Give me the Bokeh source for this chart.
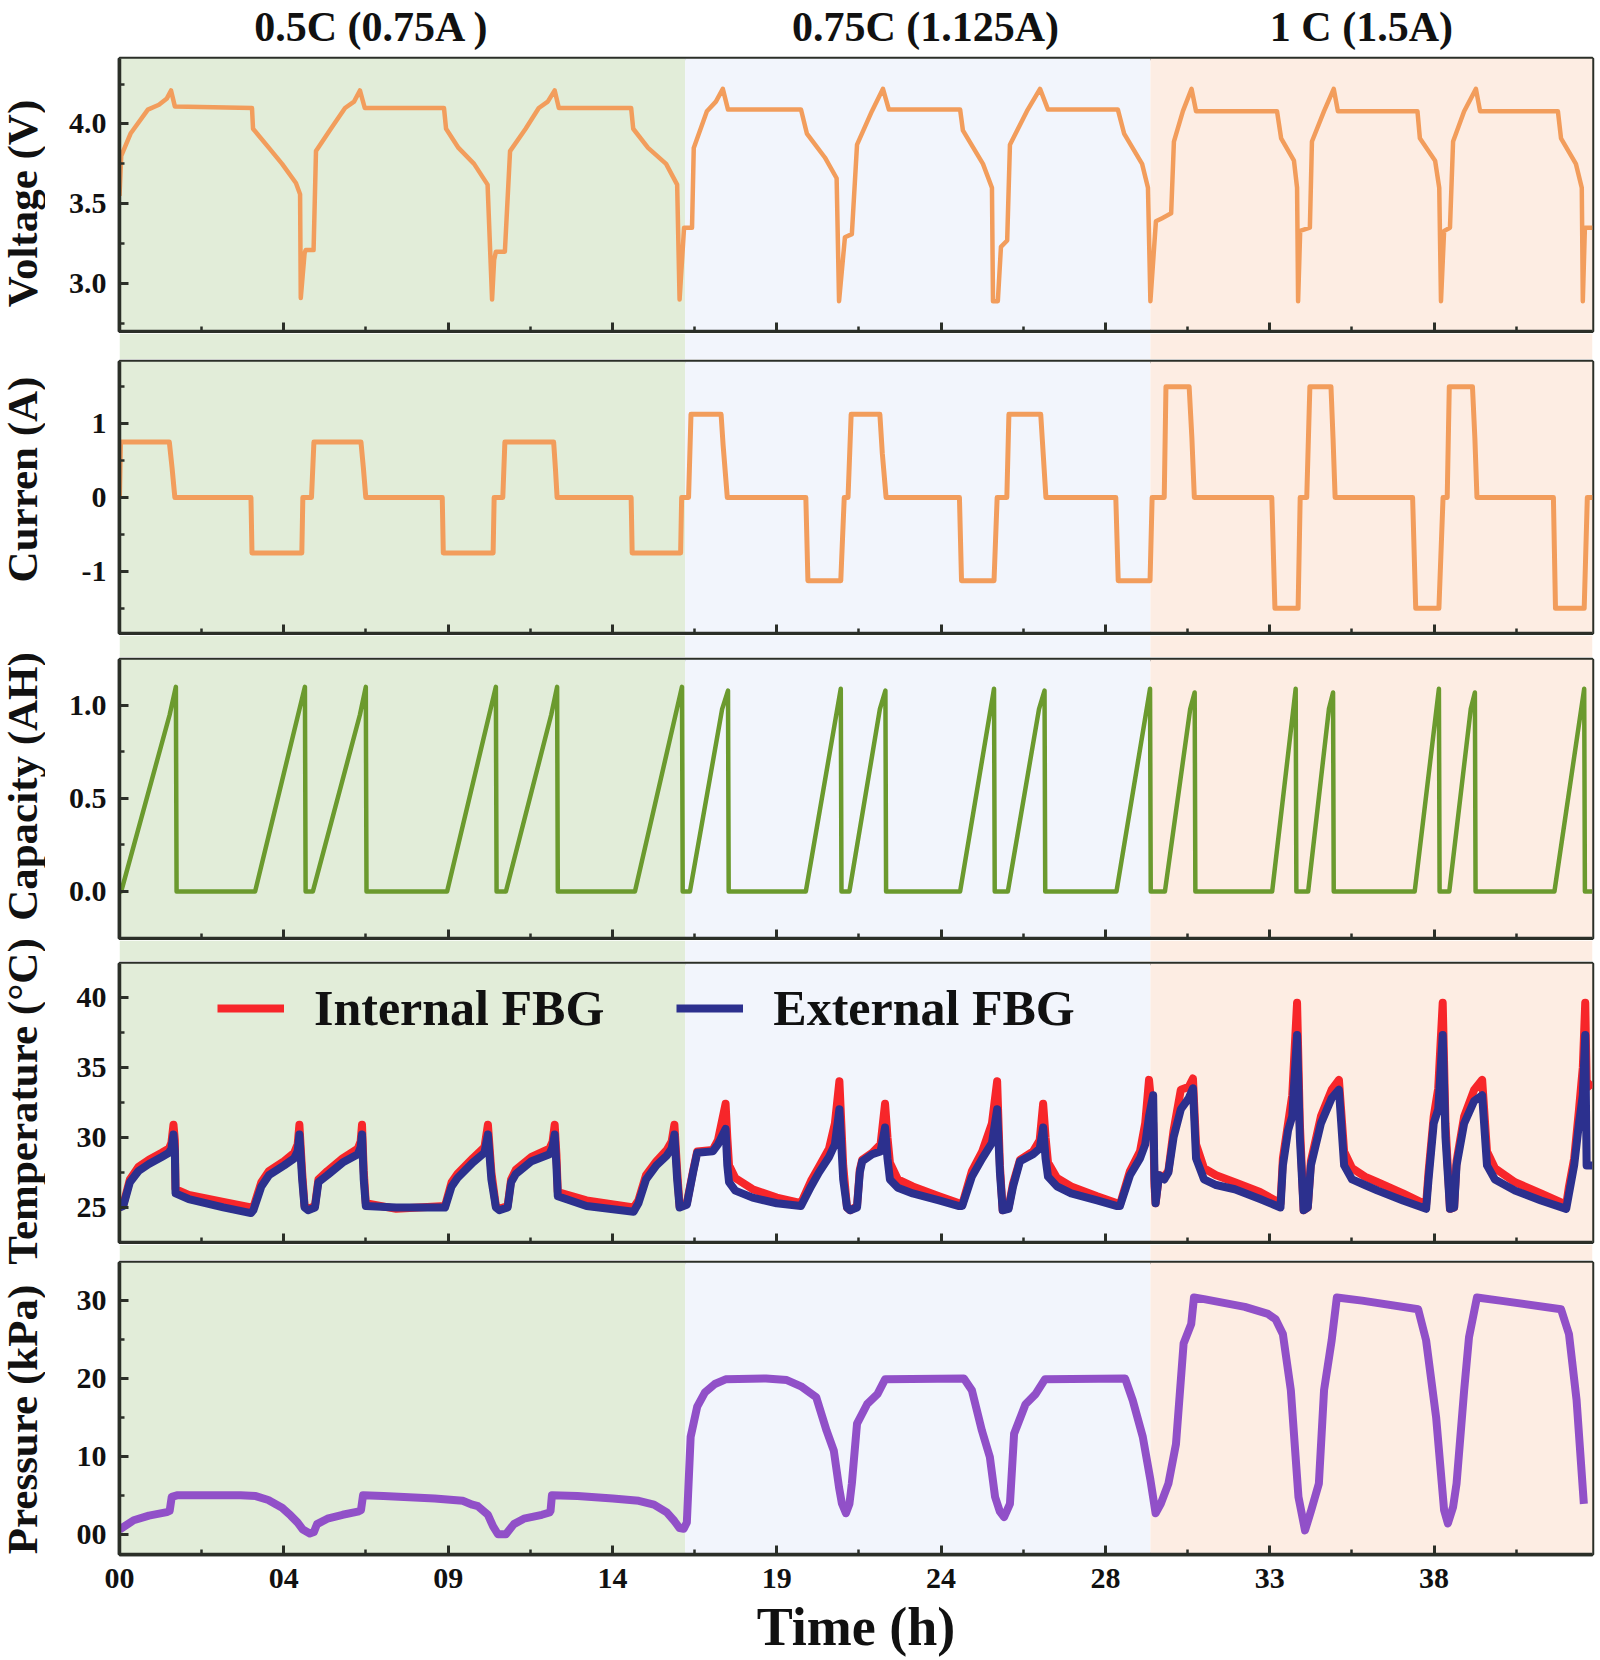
import math
from bokeh.plotting import figure
from bokeh.layouts import column, row
from bokeh.models import Range1d, BoxAnnotation, FixedTicker, Legend, LegendItem, CustomLabelingPolicy
from bokeh.core.properties import value
from bokeh.embed import file_html
from bokeh.resources import INLINE

# ---------------- data ----------------
titles = ["0.5C (0.75A )", "0.75C (1.125A)", "1 C (1.5A)"]
title_x = [7.3, 23.3, 35.9]

band_left = [0.0, 16.35, 29.80]
band_right = [16.35, 29.80, 42.58]
band_colors = ["#E2EDD9", "#F2F5FC", "#FDEDE3"]

x_ticks = [0.0, 4.75, 9.5, 14.25, 19.0, 23.75, 28.5, 33.25, 38.0]
x_minor = [2.375, 7.125, 11.875, 16.625, 21.375, 26.125, 30.875, 35.625, 40.375]
x_tick_labels = ["00", "04", "09", "14", "19", "24", "28", "33", "38"]

y_titles = ["Voltage (V)", "Curren (A)", "Capacity (AH)", "Temperature (\u00b0C)", "Pressure (kPa)"]

v_ticks = [3.0, 3.5, 4.0]; v_minor = [2.75, 3.25, 3.75, 4.25]; v_labels = ["3.0", "3.5", "4.0"]
i_ticks = [-1, 0, 1]; i_minor = [-1.5, -0.5, 0.5, 1.5]; i_labels = ["-1", "0", "1"]
c_ticks = [0.0, 0.5, 1.0]; c_minor = [0.25, 0.75]; c_labels = ["0.0", "0.5", "1.0"]
t_ticks = [25, 30, 35, 40]; t_minor = [27.5, 32.5, 37.5]; t_labels = ["25", "30", "35", "40"]
p_ticks = [0, 10, 20, 30]; p_minor = [5, 15, 25]; p_labels = ["00", "10", "20", "30"]

voltage = [
    (0.00, 3.55), (0.05, 3.80), (0.32, 3.94), (0.82, 4.09), (1.14, 4.12), (1.37, 4.16), (1.49, 4.21),
    (1.60, 4.11), (3.83, 4.10), (3.86, 3.97), (4.32, 3.85), (4.70, 3.75), (5.10, 3.63), (5.22, 3.56),
    (5.24, 2.91), (5.35, 3.19), (5.38, 3.21), (5.61, 3.21), (5.68, 3.83), (6.11, 3.97), (6.52, 4.10),
    (6.78, 4.14), (6.95, 4.21), (7.09, 4.10), (9.38, 4.10), (9.44, 3.97), (9.80, 3.85), (10.25, 3.75),
    (10.64, 3.62), (10.77, 2.90), (10.83, 3.15), (10.88, 3.20), (11.14, 3.20), (11.29, 3.83),
    (11.74, 3.97), (12.12, 4.10), (12.38, 4.14), (12.58, 4.21), (12.70, 4.10), (14.79, 4.10),
    (14.85, 3.97), (15.28, 3.85), (15.80, 3.75), (16.12, 3.62), (16.19, 2.90), (16.32, 3.35),
    (16.55, 3.35), (16.60, 3.85), (16.98, 4.08), (17.24, 4.14), (17.44, 4.22), (17.59, 4.09),
    (19.70, 4.09), (19.87, 3.94), (20.39, 3.79), (20.73, 3.66), (20.80, 2.89), (20.97, 3.29),
    (21.17, 3.31), (21.32, 3.87), (21.75, 4.08), (22.07, 4.22), (22.24, 4.09), (24.30, 4.09),
    (24.38, 3.96), (24.96, 3.75), (25.22, 3.60), (25.25, 2.89), (25.39, 2.89), (25.48, 3.23),
    (25.66, 3.27), (25.74, 3.87), (26.23, 4.08), (26.61, 4.22), (26.84, 4.09), (28.86, 4.09),
    (29.04, 3.94), (29.56, 3.75), (29.73, 3.60), (29.80, 2.89), (29.96, 3.39), (30.14, 3.41),
    (30.40, 3.44), (30.48, 3.89), (30.74, 4.08), (30.99, 4.22), (31.12, 4.08), (33.46, 4.08),
    (33.58, 3.91), (33.95, 3.77), (34.04, 3.60), (34.07, 2.89), (34.13, 3.33), (34.41, 3.35),
    (34.47, 3.89), (34.82, 4.08), (35.10, 4.22), (35.22, 4.08), (37.52, 4.08), (37.59, 3.91),
    (38.03, 3.77), (38.15, 3.60), (38.20, 2.89), (38.29, 3.33), (38.46, 3.35), (38.55, 3.89),
    (38.87, 4.08), (39.21, 4.22), (39.33, 4.08), (41.58, 4.08), (41.67, 3.91), (42.10, 3.75),
    (42.27, 3.60), (42.30, 2.89), (42.36, 3.35), (42.58, 3.35),
]

current = [
    (0.00, 0.0), (0.03, 0.75), (1.44, 0.75), (1.52, 0.40), (1.60, 0.0), (3.80, 0.0), (3.83, -0.75),
    (5.27, -0.75), (5.30, 0.0), (5.55, 0.0), (5.62, 0.75), (6.98, 0.75), (7.05, 0.40), (7.12, 0.0),
    (9.33, 0.0), (9.36, -0.75), (10.80, -0.75), (10.83, 0.0), (11.08, 0.0), (11.14, 0.75),
    (12.55, 0.75), (12.60, 0.40), (12.65, 0.0), (14.79, 0.0), (14.82, -0.75), (16.22, -0.75),
    (16.25, 0.0), (16.45, 0.0), (16.52, 1.125), (17.39, 1.125), (17.45, 0.70), (17.57, 0.0),
    (19.84, 0.0), (19.90, -1.125), (20.85, -1.125), (20.95, 0.0), (21.06, 0.0), (21.15, 1.125),
    (21.98, 1.125), (22.05, 0.60), (22.16, 0.0), (24.28, 0.0), (24.34, -1.125), (25.28, -1.125),
    (25.37, 0.0), (25.65, 0.0), (25.71, 1.125), (26.63, 1.125), (26.70, 0.60), (26.78, 0.0),
    (28.80, 0.0), (28.87, -1.125), (29.79, -1.125), (29.85, 0.0), (30.20, 0.0), (30.25, 1.5),
    (30.92, 1.5), (31.00, 0.80), (31.07, 0.0), (33.31, 0.0), (33.40, -1.5), (34.07, -1.5),
    (34.13, 0.0), (34.32, 0.0), (34.41, 1.5), (35.02, 1.5), (35.08, 0.80), (35.14, 0.0),
    (37.38, 0.0), (37.47, -1.5), (38.14, -1.5), (38.26, 0.0), (38.38, 0.0), (38.44, 1.5),
    (39.11, 1.5), (39.18, 0.80), (39.24, 0.0), (41.45, 0.0), (41.51, -1.5), (42.34, -1.5),
    (42.43, 0.0), (42.58, 0.0),
]

capacity = [
    (0.00, 0.0), (0.05, 0.0), (1.45, 0.95), (1.63, 1.10), (1.65, 0.0), (3.92, 0.0), (5.36, 1.10),
    (5.38, 0.0), (5.59, 0.0), (6.95, 0.95), (7.12, 1.10), (7.14, 0.0), (9.47, 0.0), (10.88, 1.10),
    (10.90, 0.0), (11.17, 0.0), (12.48, 0.95), (12.65, 1.10), (12.67, 0.0), (14.90, 0.0),
    (16.26, 1.10), (16.28, 0.0), (16.49, 0.0), (17.42, 0.98), (17.59, 1.08), (17.61, 0.0),
    (19.84, 0.0), (20.85, 1.09), (20.87, 0.0), (21.10, 0.0), (21.98, 0.98), (22.14, 1.08),
    (22.16, 0.0), (24.30, 0.0), (25.28, 1.09), (25.30, 0.0), (25.68, 0.0), (26.58, 0.98),
    (26.74, 1.08), (26.76, 0.0), (28.82, 0.0), (29.79, 1.09), (29.81, 0.0), (30.22, 0.0),
    (30.95, 0.98), (31.08, 1.07), (31.10, 0.0), (33.32, 0.0), (34.00, 1.09), (34.02, 0.0),
    (34.36, 0.0), (34.96, 0.98), (35.08, 1.07), (35.10, 0.0), (37.44, 0.0), (38.14, 1.09),
    (38.16, 0.0), (38.44, 0.0), (39.06, 0.98), (39.18, 1.07), (39.20, 0.0), (41.48, 0.0),
    (42.34, 1.09), (42.36, 0.0), (42.58, 0.0),
]

# (time, external FBG, internal FBG)
temperature = [
    (0.00, 25.0, 25.0), (0.11, 25.1, 25.2), (0.30, 26.8, 27.0), (0.55, 27.6, 27.9), (0.85, 28.1, 28.4),
    (1.22, 28.6, 28.9), (1.43, 28.9, 29.2), (1.50, 29.2, 29.6), (1.56, 30.2, 30.9), (1.60, 29.0, 29.8),
    (1.62, 26.0, 26.3), (2.00, 25.6, 25.9), (3.00, 25.0, 25.4), (3.80, 24.6, 25.0), (3.87, 24.8, 25.0),
    (4.10, 26.5, 26.8), (4.32, 27.3, 27.6), (4.76, 28.0, 28.3), (5.05, 28.5, 28.9), (5.15, 29.0, 29.5),
    (5.20, 30.2, 30.9), (5.28, 27.0, 27.5), (5.35, 25.0, 25.1), (5.45, 24.8, 24.9), (5.65, 25.0, 25.1),
    (5.75, 26.8, 27.0), (6.01, 27.3, 27.6), (6.45, 28.2, 28.5), (6.89, 28.8, 29.2), (6.97, 29.3, 29.7),
    (7.01, 30.2, 30.9), (7.06, 27.0, 27.6), (7.12, 25.1, 25.3), (8.00, 25.0, 24.9), (9.41, 25.0, 25.1),
    (9.60, 26.5, 26.8), (9.77, 27.1, 27.4), (10.21, 28.2, 28.5), (10.55, 28.9, 29.3), (10.65, 30.2, 30.9),
    (10.75, 27.0, 27.5), (10.88, 25.0, 25.1), (10.98, 24.8, 24.9), (11.22, 25.0, 25.1), (11.32, 26.8, 27.0),
    (11.46, 27.4, 27.7), (11.91, 28.3, 28.6), (12.43, 28.8, 29.2), (12.52, 29.3, 29.7), (12.58, 30.2, 30.9),
    (12.63, 28.0, 28.8), (12.67, 25.8, 26.1), (13.50, 25.1, 25.5), (14.86, 24.7, 25.0), (15.00, 25.3, 25.5),
    (15.22, 27.0, 27.3), (15.52, 28.0, 28.3), (15.82, 28.7, 29.1), (15.96, 29.2, 29.7), (16.04, 30.2, 30.9),
    (16.12, 27.0, 27.6), (16.19, 25.0, 25.1), (16.40, 25.2, 25.3), (16.58, 27.5, 27.6), (16.70, 28.9, 29.0),
    (17.15, 29.0, 29.1), (17.30, 29.5, 29.8), (17.52, 30.6, 32.4), (17.57, 28.0, 30.0), (17.62, 26.8, 28.0),
    (17.80, 26.2, 27.1), (18.30, 25.7, 26.3), (19.00, 25.3, 25.7), (19.70, 25.1, 25.3), (19.99, 26.5, 26.9),
    (20.22, 27.5, 27.9), (20.51, 28.6, 29.2), (20.68, 29.5, 31.0), (20.81, 32.0, 34.0), (20.92, 27.0, 28.0),
    (21.03, 25.0, 25.0), (21.12, 24.8, 24.8), (21.32, 25.0, 25.1), (21.40, 27.5, 27.7), (21.47, 28.3, 28.4),
    (21.76, 28.8, 28.9), (22.00, 29.0, 29.5), (22.13, 30.7, 32.4), (22.20, 28.5, 30.0), (22.27, 27.0, 28.2),
    (22.50, 26.4, 27.0), (22.93, 26.0, 26.5), (23.69, 25.5, 25.8), (24.27, 25.1, 25.3), (24.36, 25.1, 25.2),
    (24.64, 27.2, 27.6), (24.94, 28.5, 29.0), (25.22, 29.6, 31.0), (25.37, 32.0, 34.0), (25.45, 27.5, 28.0),
    (25.53, 24.8, 24.8), (25.70, 24.9, 25.0), (25.83, 26.5, 26.7), (26.03, 28.3, 28.4), (26.41, 28.8, 29.0),
    (26.60, 29.2, 29.8), (26.70, 30.7, 32.4), (26.77, 28.5, 30.0), (26.84, 27.2, 28.2), (27.10, 26.5, 27.1),
    (27.51, 26.0, 26.5), (28.26, 25.5, 25.8), (28.84, 25.1, 25.3), (28.92, 25.1, 25.2), (29.21, 27.3, 27.6),
    (29.50, 28.5, 29.0), (29.65, 29.5, 31.0), (29.76, 31.5, 34.1), (29.88, 33.0, 31.0), (29.92, 27.0, 26.5),
    (29.95, 25.3, 25.3), (30.05, 27.3, 27.3), (30.20, 27.0, 27.2), (30.32, 27.5, 27.6), (30.47, 30.0, 30.5),
    (30.68, 32.0, 33.4), (30.91, 32.8, 33.6), (31.03, 33.5, 34.2), (31.12, 28.5, 29.5), (31.35, 27.0, 27.8),
    (31.70, 26.6, 27.3), (32.24, 26.3, 26.8), (32.97, 25.6, 26.1), (33.56, 25.0, 25.3), (33.63, 28.0, 28.5),
    (33.78, 30.5, 31.0), (33.90, 31.5, 33.0), (34.04, 37.3, 39.6), (34.12, 30.0, 31.0), (34.23, 24.8, 24.8),
    (34.35, 25.0, 25.0), (34.44, 28.0, 28.3), (34.73, 31.0, 31.5), (35.04, 32.8, 33.4), (35.25, 33.4, 34.1),
    (35.40, 28.0, 29.0), (35.63, 27.0, 27.8), (36.00, 26.6, 27.2), (36.37, 26.2, 26.8), (37.10, 25.5, 26.0),
    (37.77, 24.9, 25.2), (37.84, 27.0, 27.5), (37.99, 31.0, 31.5), (38.12, 32.0, 33.5), (38.25, 37.3, 39.6),
    (38.33, 30.0, 31.0), (38.46, 24.9, 24.9), (38.58, 25.0, 25.0), (38.65, 28.0, 28.3), (38.87, 31.0, 31.5),
    (39.16, 32.6, 33.4), (39.39, 33.0, 34.1), (39.53, 28.0, 29.0), (39.76, 27.0, 27.8), (40.34, 26.2, 26.8),
    (41.09, 25.5, 26.0), (41.82, 24.9, 25.2), (41.90, 26.0, 26.5), (42.05, 28.0, 28.5), (42.19, 31.0, 32.0),
    (42.30, 33.0, 35.0), (42.37, 37.3, 39.6), (42.41, 28.0, 34.0), (42.58, 28.0, 33.5),
]

pressure = [
    (0.00, 0.6), (0.41, 1.8), (0.85, 2.4), (1.37, 2.85), (1.45, 3.0), (1.51, 4.8), (1.66, 5.0), (3.50, 5.0),
    (3.94, 4.9), (4.30, 4.4), (4.70, 3.4), (4.95, 2.4), (5.15, 1.5), (5.30, 0.6), (5.50, 0.1), (5.62, 0.3),
    (5.71, 1.3), (6.01, 2.0), (6.45, 2.5), (6.89, 2.9), (6.98, 3.1), (7.04, 5.0), (7.63, 4.9), (9.11, 4.6),
    (9.92, 4.3), (10.20, 3.8), (10.36, 3.6), (10.65, 2.5), (10.80, 1.0), (10.94, 0.0), (11.17, 0.0),
    (11.40, 1.3), (11.69, 2.0), (12.21, 2.5), (12.43, 2.8), (12.46, 3.0), (12.50, 5.0), (13.24, 4.9),
    (14.26, 4.6), (15.01, 4.3), (15.45, 3.8), (15.82, 2.8), (16.04, 1.7), (16.19, 0.8), (16.31, 0.7),
    (16.40, 1.5), (16.51, 12.5), (16.70, 16.4), (16.92, 18.2), (17.21, 19.3), (17.52, 19.9), (18.69, 20.0),
    (19.29, 19.8), (19.70, 19.0), (20.14, 17.6), (20.44, 13.3), (20.65, 10.7), (20.80, 6.0), (20.88, 4.0),
    (21.00, 2.7), (21.10, 3.9), (21.17, 6.5), (21.32, 14.2), (21.61, 16.7), (21.91, 18.0), (22.13, 19.9),
    (24.41, 20.0), (24.64, 18.5), (24.93, 13.3), (25.16, 9.9), (25.31, 4.8), (25.45, 2.9), (25.57, 2.2),
    (25.74, 3.9), (25.86, 12.9), (26.19, 16.7), (26.48, 18.0), (26.75, 19.9), (29.07, 20.0), (29.29, 17.2),
    (29.58, 12.5), (29.80, 7.0), (29.95, 2.7), (30.10, 3.9), (30.32, 6.5), (30.54, 11.6), (30.76, 24.5),
    (30.98, 27.0), (31.06, 30.4), (31.35, 30.2), (32.53, 29.2), (33.20, 28.3), (33.42, 27.6), (33.63, 25.7),
    (33.86, 18.5), (34.08, 4.8), (34.27, 0.5), (34.45, 3.1), (34.67, 6.5), (34.82, 18.5), (35.04, 24.9),
    (35.19, 30.4), (35.92, 30.0), (37.54, 28.9), (37.77, 24.9), (38.06, 15.0), (38.29, 3.1), (38.40, 1.4),
    (38.55, 3.5), (38.65, 6.5), (38.87, 18.5), (39.01, 25.3), (39.24, 30.4), (39.91, 30.0), (41.67, 28.9),
    (41.90, 25.7), (42.12, 17.2), (42.33, 3.9),
]

# ---------------- style ----------------
FONT = "Liberation Serif"
FRAME = "#2b2f28"
ORANGE = "#F29D5C"
GREEN = "#6B9A2E"
RED = "#F7262A"
NAVY = "#2C308E"
PURPLE = "#9150C8"

X_MAX = band_right[-1]
x_range = Range1d(0, X_MAX)

PANEL_W = 1555
LEFT = 74
RIGHT = 8


def add_bands(p):
    for l, r, c in zip(band_left, band_right, band_colors):
        p.add_layout(BoxAnnotation(left=l, right=r, fill_color=c, fill_alpha=1.0,
                                   line_color=None, level="underlay"))


def style_axes(p, yticks, yminor, ylabels, show_x_labels):
    for ax in (p.xaxis[0], p.yaxis[0]):
        ax.axis_line_color = FRAME
        ax.axis_line_width = 3.5
        ax.major_tick_line_color = FRAME
        ax.major_tick_line_width = 3
        ax.major_tick_in = 9
        ax.major_tick_out = 0
        ax.minor_tick_line_color = FRAME
        ax.minor_tick_line_width = 2.5
        ax.minor_tick_in = 5
        ax.minor_tick_out = 0
        ax.major_label_text_font = FONT
        ax.major_label_text_font_style = "bold"
        ax.major_label_text_font_size = "30px"
        ax.major_label_text_color = "#111111"
    p.yaxis[0].ticker = FixedTicker(ticks=yticks, minor_ticks=yminor)
    p.yaxis[0].major_label_overrides = {float(t): s for t, s in zip(yticks, ylabels)}
    p.yaxis[0].major_label_standoff = 13
    p.xaxis[0].ticker = FixedTicker(ticks=x_ticks, minor_ticks=x_minor)
    if show_x_labels:
        p.xaxis[0].major_label_overrides = {float(t): s for t, s in zip(x_ticks, x_tick_labels)}
        p.xaxis[0].major_label_standoff = 14
    else:
        # ticks only: no labels are drawn on the inner panels
        p.xaxis[0].major_label_policy = CustomLabelingPolicy(
            code="for (const i of indices) indices.unset(i)")
        p.xaxis[0].major_label_text_font_size = "0px"
        p.xaxis[0].major_label_standoff = 0


def panel(height, y0, y1, yticks, yminor, ylabels, border_bottom=2, show_x_labels=False):
    p = figure(width=PANEL_W, height=height, x_range=x_range, y_range=Range1d(y0, y1),
               output_backend="svg", toolbar_location=None,
               min_border_left=LEFT, min_border_right=RIGHT,
               min_border_top=2, min_border_bottom=border_bottom)
    p.grid.visible = False
    p.outline_line_color = FRAME
    p.outline_line_width = 3.5
    p.background_fill_color = "white"
    p.border_fill_color = "white"
    add_bands(p)
    style_axes(p, yticks, yminor, ylabels, show_x_labels)
    return p


def spacer(height):
    s = figure(width=PANEL_W, height=height, x_range=x_range, y_range=Range1d(0, 1),
               output_backend="svg", toolbar_location=None,
               min_border_left=LEFT, min_border_right=RIGHT, min_border_top=0, min_border_bottom=0)
    s.axis.visible = False
    s.grid.visible = False
    s.outline_line_color = None
    s.quad(left=band_left, right=band_right, bottom=0, top=1, fill_color=band_colors, line_color=None)
    return s


# ---------------- title row ----------------
tf = figure(width=1600, height=56, x_range=x_range, y_range=Range1d(0, 56),
            output_backend="svg", toolbar_location=None,
            min_border_left=LEFT + 45, min_border_right=RIGHT, min_border_top=0, min_border_bottom=0)
tf.axis.visible = False
tf.grid.visible = False
tf.outline_line_color = None
tf.text(x=title_x, y=[30] * 3, text=titles, text_font=value(FONT), text_font_style="bold",
        text_font_size="42px", text_align="center", text_baseline="middle", text_color="#111111")

# ---------------- panels ----------------
pv = panel(277, 2.70, 4.41, v_ticks, v_minor, v_labels)
vt, vv = zip(*voltage)
pv.line(list(vt), list(vv), line_color=ORANGE, line_width=4.5, line_join="round")

pi = panel(276, -1.84, 1.84, i_ticks, i_minor, i_labels)
it, iv = zip(*current)
pi.line(list(it), list(iv), line_color=ORANGE, line_width=5, line_join="round")

pc = panel(283, -0.253, 1.247, c_ticks, c_minor, c_labels)
ct, cv = zip(*capacity)
pc.line(list(ct), list(cv), line_color=GREEN, line_width=4.5, line_join="round")

pt = panel(283, 22.5, 42.4, t_ticks, t_minor, t_labels)
tt, t_ext, t_int = zip(*temperature)
r_int = pt.line(list(tt), list(t_int), line_color=RED, line_width=8, line_join="round")
r_ext = pt.line(list(tt), list(t_ext), line_color=NAVY, line_width=8, line_join="round")
legend = Legend(items=[LegendItem(label="Internal FBG", renderers=[r_int]),
                       LegendItem(label="External FBG", renderers=[r_ext])],
                location=(98, 205), orientation="horizontal", glyph_width=67, glyph_height=20,
                label_standoff=30, spacing=72, padding=0, margin=0,
                background_fill_alpha=0, border_line_color=None,
                label_text_font=FONT, label_text_font_style="bold", label_text_font_size="50px",
                label_text_color="#111111")
pt.add_layout(legend)

pp = panel(400, -2.6, 34.9, p_ticks, p_minor, p_labels, border_bottom=106, show_x_labels=True)
pt_, pv_ = zip(*pressure)
pp.line(list(pt_), list(pv_), line_color=PURPLE, line_width=8, line_join="round")
pp.xaxis[0].axis_label = "Time (h)"
pp.xaxis[0].axis_label_text_font = FONT
pp.xaxis[0].axis_label_text_font_style = "bold"
pp.xaxis[0].axis_label_text_font_size = "54px"
pp.xaxis[0].axis_label_text_color = "#111111"
pp.xaxis[0].axis_label_standoff = 6

# ---------------- y titles strip ----------------
label_centers = [203, 479, 786, 1101, 1419]  # page y (px from top)
sf = figure(width=45, height=1604, x_range=Range1d(0, 45), y_range=Range1d(0, 1604),
            output_backend="svg", toolbar_location=None,
            min_border_left=0, min_border_right=0, min_border_top=0, min_border_bottom=0)
sf.axis.visible = False
sf.grid.visible = False
sf.outline_line_color = None
sf.text(x=[22] * 5, y=[1660 - c for c in label_centers], text=y_titles, angle=math.pi / 2,
        text_font=value(FONT), text_font_style="bold", text_font_size="43px",
        text_align="center", text_baseline="middle", text_color="#111111")

panels = column(pv, spacer(26), pi, spacer(22), pc, spacer(21), pt, spacer(16), pp, spacing=0)
layout = column(tf, row(sf, panels, spacing=0), spacing=0)

open("out.html", "w").write(file_html(layout, INLINE))
